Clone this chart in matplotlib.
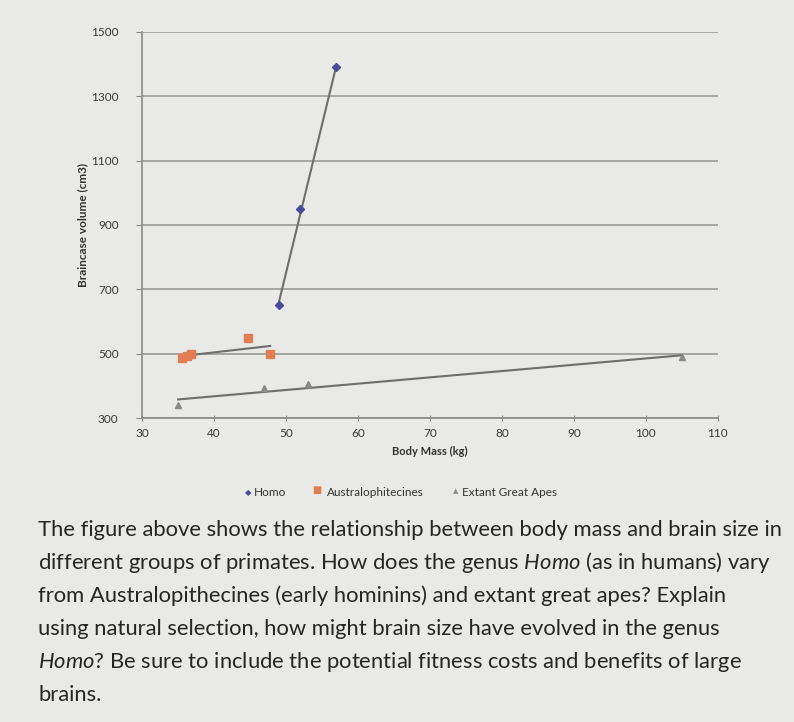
import numpy as np
import matplotlib.pyplot as plt

# -------------------------------
# Data
# -------------------------------

homo_mass = [49, 52, 57]
homo_brain = [650, 950, 1390]

austr_mass = [35.6, 36.3, 36.8, 44.7, 47.8]
austr_brain = [485, 492, 498, 548, 500]

apes_mass = [35, 47, 53, 105]
apes_brain = [340, 392, 405, 490]

x_ticks = [30, 40, 50, 60, 70, 80, 90, 100, 110]
y_ticks = [300, 500, 700, 900, 1100, 1300, 1500]

question = [
    "The figure above shows the relationship between body mass and brain size in",
    "different groups of primates. How does the genus $\\it{Homo}$ (as in humans) vary",
    "from Australopithecines (early hominins) and extant great apes? Explain",
    "using natural selection, how might brain size have evolved in the genus",
    "$\\it{Homo}$? Be sure to include the potential fitness costs and benefits of large",
    "brains.",
]

plt.rcParams['font.family'] = ['Lato', 'DejaVu Sans']
plt.rcParams['mathtext.fontset'] = 'custom'
plt.rcParams['mathtext.rm'] = 'Lato'
plt.rcParams['mathtext.it'] = 'Lato:italic'

bg = '#e9e9e7'
fig = plt.figure(figsize=(7.94, 7.22), dpi=100, facecolor=bg)
ax = fig.add_axes([0.179, 0.421, 0.725, 0.535], facecolor=bg)

# ===============================
# Scatter + linear trendlines
# ===============================

series = [
    (homo_mass, homo_brain, 'D', '#4b4a9c', 4.5),
    (austr_mass, austr_brain, 's', '#e27d52', 5.5),
    (apes_mass, apes_brain, '^', '#8a8a8a', 5),
]
for xs, ys, mk, col, ms in series:
    ax.plot(xs, ys, mk, color=col, ms=ms, zorder=3)
    k, b = np.polyfit(xs, ys, 1)
    xx = np.array([min(xs), max(xs)])
    ax.plot(xx, k * xx + b, color='#6e6e6e', lw=1.5, zorder=2)

ax.set_xlim(30, 110)
ax.set_ylim(300, 1500)
ax.set_xticks(x_ticks)
ax.set_yticks(y_ticks)
ax.grid(axis='y', color='#9a9a9a', lw=1.2)
ax.set_axisbelow(True)
for s in ['top', 'right']:
    ax.spines[s].set_visible(False)
for s in ['left', 'bottom']:
    ax.spines[s].set_color('#8a8a8a')
    ax.spines[s].set_linewidth(1.2)
ax.tick_params(labelsize=8.5, colors='#8a8a8a', labelcolor='#3a3a3a', length=4)
ax.tick_params(axis='x', direction='inout', pad=5)
ax.tick_params(axis='y', pad=13)

ax.set_xlabel('Body Mass (kg)', fontsize=8, fontweight='bold', color='#333333', labelpad=5)
ax.set_ylabel('Braincase volume (cm3)', fontsize=8.5, fontweight='bold', color='#333333', labelpad=2)

# legend row
fig.text(0.308, 0.318, '\u25c6', color='#4b4a9c', fontsize=6, va='center', family='DejaVu Sans')
fig.text(0.320, 0.318, 'Homo', color='#333333', fontsize=8.5, va='center')
fig.text(0.393, 0.321, '\u25a0', color='#e27d52', fontsize=7, va='center', family='DejaVu Sans')
fig.text(0.412, 0.318, 'Australophitecines', color='#333333', fontsize=8.5, va='center')
fig.text(0.570, 0.320, '\u25b2', color='#8a8a8a', fontsize=5, va='center', family='DejaVu Sans')
fig.text(0.582, 0.318, 'Extant Great Apes', color='#333333', fontsize=8.5, va='center')

# question text
for i, line in enumerate(question):
    fig.text(0.048, 0.266 - i * 0.0457, line, fontsize=15.85, color='#262626', va='center')

fig.savefig('out.png', dpi=100, facecolor=bg)
